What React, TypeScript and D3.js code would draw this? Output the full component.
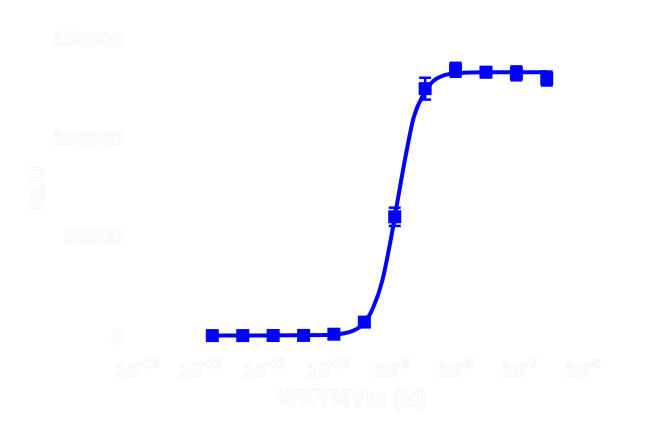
import React, { useEffect, useRef } from 'react';
import * as d3 from 'd3';

// 3-fold serial dilution, molar
const concentrations = [1.52e-12, 4.57e-12, 1.37e-11, 4.12e-11, 1.23e-10, 3.7e-10, 1.11e-9, 3.33e-9, 1.0e-8, 3.0e-8, 9.0e-8, 2.7e-7];
const responses = [200, 200, 250, 300, 900, 7000, 60000, 124500, 134000, 132800, 132200, 129600];
const errors = [300, 300, 300, 300, 500, 1500, 4600, 5500, 3500, 2500, 3500, 3500];

// fitted curve
const fitConc = [1.5e-12, 1e-11, 1e-10, 1.8e-10, 3.2e-10, 5e-10, 7.1e-10, 1e-9, 1.26e-9, 1.6e-9, 2.2e-9, 3.2e-9, 5e-9, 1e-8, 3.2e-8, 2.7e-7];
const fitValues = [300, 300, 560, 1400, 4800, 13700, 28000, 51500, 70000, 88500, 110000, 122000, 129500, 132200, 132700, 132800];

const yTicks = [0, 50000, 100000, 150000];
const xTickExponents = [-13, -12, -11, -10, -9, -8, -7, -6];

const xTitle = 'WKYMVm (M)';
const yTitle = 'RLU';

const W = 650;
const H = 434;
const BLUE = '#0000ff';
const TEXT_FILL = '#ffffff';
const TEXT_EDGE = '#f2f2f2';

const App: React.FC = () => {
  const svgRef = useRef<SVGSVGElement>(null);

  useEffect(() => {
    document.body.style.margin = '0';
    if (!svgRef.current) return;
    const svg = d3.select(svgRef.current);
    svg.selectAll('*').remove();

    const x = d3.scaleLog().domain([1e-13, 1e-6]).range([137, 583]);
    const y = d3.scaleLinear().domain([0, 150000]).range([336, 38]);
    const axisY = 348;
    const font = '"Liberation Sans", Arial, sans-serif';

    const styleText = (sel: any) =>
      sel
        .attr('font-family', font)
        .attr('font-weight', 'bold')
        .attr('fill', TEXT_FILL)
        .attr('stroke', TEXT_EDGE)
        .attr('stroke-width', 0.6);

    // axes (white, like the reference)
    svg.append('line')
      .attr('x1', 128).attr('x2', 128)
      .attr('y1', y(150000)).attr('y2', y(0))
      .attr('stroke', '#ffffff').attr('stroke-width', 2);
    svg.append('line')
      .attr('x1', x(1e-13)).attr('x2', x(1e-6))
      .attr('y1', axisY).attr('y2', axisY)
      .attr('stroke', '#ffffff').attr('stroke-width', 2);

    // y tick labels
    svg.append('g')
      .selectAll('text')
      .data(yTicks)
      .enter()
      .append('text')
      .attr('x', 123)
      .attr('y', d => y(d))
      .attr('dy', '0.36em')
      .attr('text-anchor', 'end')
      .attr('font-size', 21)
      .text(d => String(d))
      .call(styleText);

    // x tick labels: 10 with superscript exponent
    const xl = svg.append('g')
      .selectAll('text')
      .data(xTickExponents)
      .enter()
      .append('text')
      .attr('x', d => x(Math.pow(10, d)))
      .attr('y', 377)
      .attr('text-anchor', 'middle')
      .attr('font-size', 21)
      .call(styleText);
    xl.append('tspan').text('10');
    xl.append('tspan')
      .attr('dy', -9)
      .attr('font-size', 14)
      .text(d => `-${Math.abs(d)}`);

    // axis titles
    svg.append('text')
      .attr('x', 352)
      .attr('y', 406)
      .attr('text-anchor', 'middle')
      .attr('font-size', 23)
      .text(xTitle)
      .call(styleText);
    svg.append('text')
      .attr('transform', `translate(44, ${188}) rotate(-90)`)
      .attr('text-anchor', 'middle')
      .attr('font-size', 21)
      .text(yTitle)
      .call(styleText);

    // fitted curve
    const line = d3.line<number>()
      .x((d, i) => x(fitConc[i]))
      .y(d => y(d))
      .curve(d3.curveMonotoneX);
    svg.append('path')
      .attr('d', line(fitValues))
      .attr('fill', 'none')
      .attr('stroke', BLUE)
      .attr('stroke-width', 4);

    const pts = concentrations.map((c, i) => ({ c, v: responses[i], e: errors[i] }));

    // error bars
    const eb = svg.append('g').attr('stroke', BLUE).attr('stroke-width', 2.5);
    pts.forEach(p => {
      const cx = x(p.c);
      eb.append('line').attr('x1', cx).attr('x2', cx).attr('y1', y(p.v + p.e)).attr('y2', y(p.v - p.e));
      eb.append('line').attr('x1', cx - 6).attr('x2', cx + 6).attr('y1', y(p.v + p.e)).attr('y2', y(p.v + p.e));
      eb.append('line').attr('x1', cx - 6).attr('x2', cx + 6).attr('y1', y(p.v - p.e)).attr('y2', y(p.v - p.e));
    });

    // square markers
    const size = 13;
    svg.append('g')
      .selectAll('rect')
      .data(pts)
      .enter()
      .append('rect')
      .attr('x', d => x(d.c) - size / 2)
      .attr('y', d => y(d.v) - size / 2)
      .attr('width', size)
      .attr('height', size)
      .attr('fill', BLUE);
  }, []);

  return <svg ref={svgRef} width={W} height={H} style={{ display: 'block', background: '#ffffff' }} />;
};

export default App;
